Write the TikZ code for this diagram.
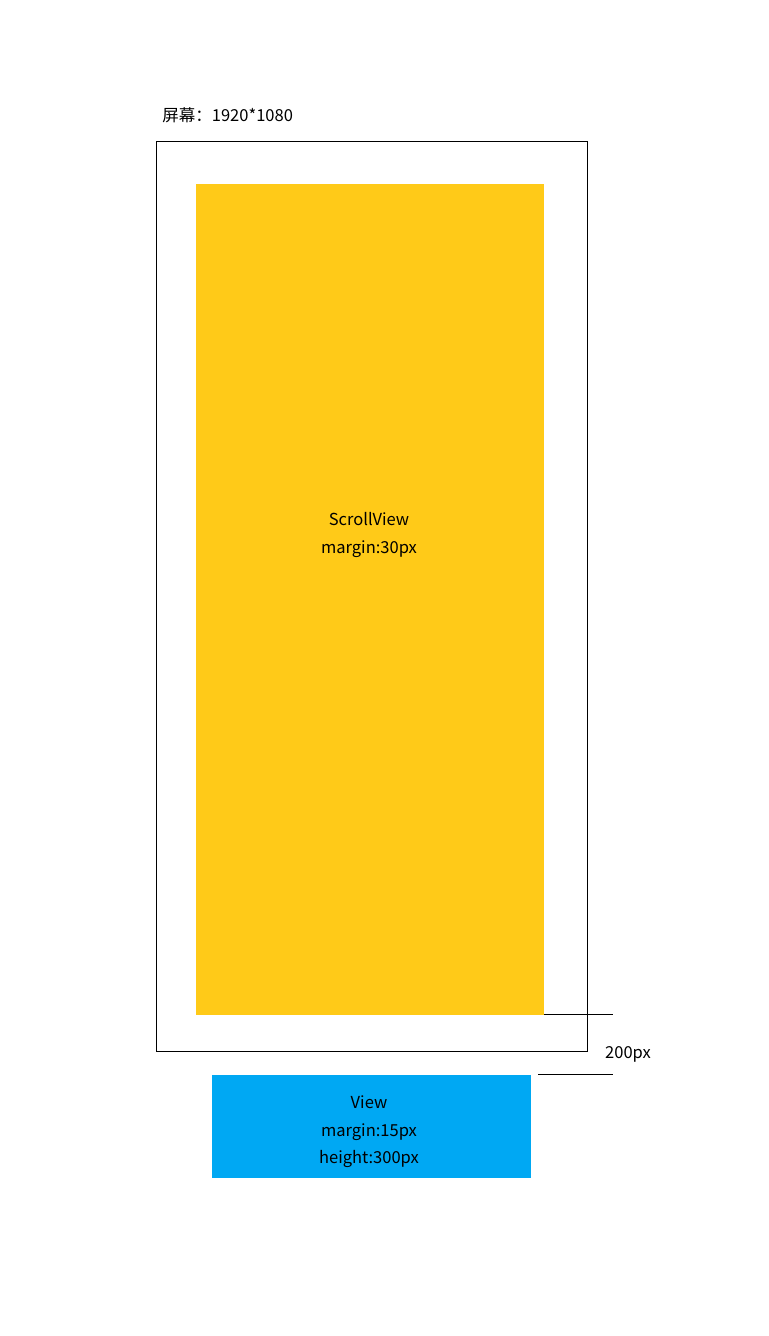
\documentclass[tikz,border=0pt]{standalone}
\usepackage{fontspec}
\setmainfont{Noto Sans CJK SC}
\usetikzlibrary{positioning,calc}
\definecolor{scrollyellow}{RGB}{255,202,24}
\definecolor{viewblue}{RGB}{0,168,243}

\begin{document}
\begin{tikzpicture}[
    x=0.02cm, y=-0.02cm,
    screenbox/.style={rectangle, draw=black, line width=0.55pt, inner sep=0pt},
    areabox/.style={rectangle, draw=none, inner sep=0pt},
    areatext/.style={align=center, inner sep=0pt, font=\fontsize{9.4}{15.7}\selectfont},
    dimline/.style={line width=0.5pt},
    lbl/.style={font=\fontsize{9.4}{11}\selectfont, inner sep=0pt}
]
\useasboundingbox (0,0) rectangle (768,1336);

% Screen frame
\node[screenbox, minimum width=8.64cm, minimum height=18.22cm] (screen) at (372,596.5) {};
\node[lbl, anchor=west] (title) at (162,115) {屏幕：1920*1080};

% ScrollView
\node[areabox, fill=scrollyellow, minimum width=6.96cm, minimum height=16.62cm] (scroll) at (370,599.5) {};
\node[areatext] (scrolltext) at (369,535) {ScrollView\\margin:30px};

% View
\node[areabox, fill=viewblue, minimum width=6.38cm, minimum height=2.06cm] (view) at (371.5,1126.5) {};
\node[areatext] (viewtext) at (369,1132) {View\\margin:15px\\height:300px};

% Dimension lines
\coordinate (dimtop) at (613,1014);
\coordinate (dimbotstart) at (538,1074);
\coordinate (dimbot) at (613,1074);
\draw[dimline] (scroll.south east |- dimtop) -- (dimtop);
\draw[dimline] (dimbotstart) -- (dimbot);
\node[lbl] (gap) at (628,1054) {200px};

\end{tikzpicture}
\end{document}
